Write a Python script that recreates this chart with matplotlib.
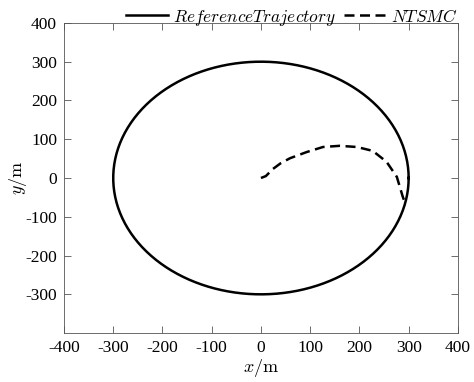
import matplotlib.pyplot as plt
import numpy as np

plt.rcParams['font.family'] = ['Liberation Serif', 'DejaVu Serif']
plt.rcParams['mathtext.fontset'] = 'cm'
plt.rcParams['axes.unicode_minus'] = False

# reference trajectory: circle of radius 300
radius = 300
theta = np.linspace(0, 2 * np.pi, 400)

# NTSMC trajectory
ntsmc_x = [0, 10, 24, 40, 59, 93, 126, 160, 195, 227, 255, 276, 288, 292, 293]
ntsmc_y = [0, 5, 23, 38, 51, 67, 80, 83, 80, 70, 42, 3, -48, -62, -70]

xticks = [-400, -300, -200, -100, 0, 100, 200, 300, 400]
yticks = [-300, -200, -100, 0, 100, 200, 300, 400]

fig = plt.figure(figsize=(4.74, 3.82), dpi=100)
ax = fig.add_axes([0.135, 0.128, 0.831, 0.812])

ax.plot(radius * np.cos(theta), radius * np.sin(theta), color='black', lw=1.8,
        label=r'$ReferenceTrajectory$')
ax.plot(ntsmc_x, ntsmc_y, color='black', lw=1.8, ls=(0, (4, 2.2)), label=r'$NTSMC$')

ax.set_xlim(-400, 400)
ax.set_ylim(-400, 400)
ax.set_xticks(xticks)
ax.set_yticks(yticks)
ax.tick_params(direction='in', top=True, right=True, labelsize=12.5, color='#555555',
               length=5, width=0.6, pad=5)
for s in ax.spines.values():
    s.set_color('#555555')
    s.set_linewidth(0.6)

ax.set_xlabel(r'$x/\mathrm{m}$', fontsize=13, labelpad=1)
ax.set_ylabel(r'$y/\mathrm{m}$', fontsize=13, labelpad=-3)

ax.legend(loc='lower right', bbox_to_anchor=(1.0, 0.985), ncol=2, frameon=False,
          fontsize=12.5, handlelength=2.4, handletextpad=0.3, columnspacing=0.5,
          borderpad=0, borderaxespad=0)

fig.savefig('out.png', dpi=100)
